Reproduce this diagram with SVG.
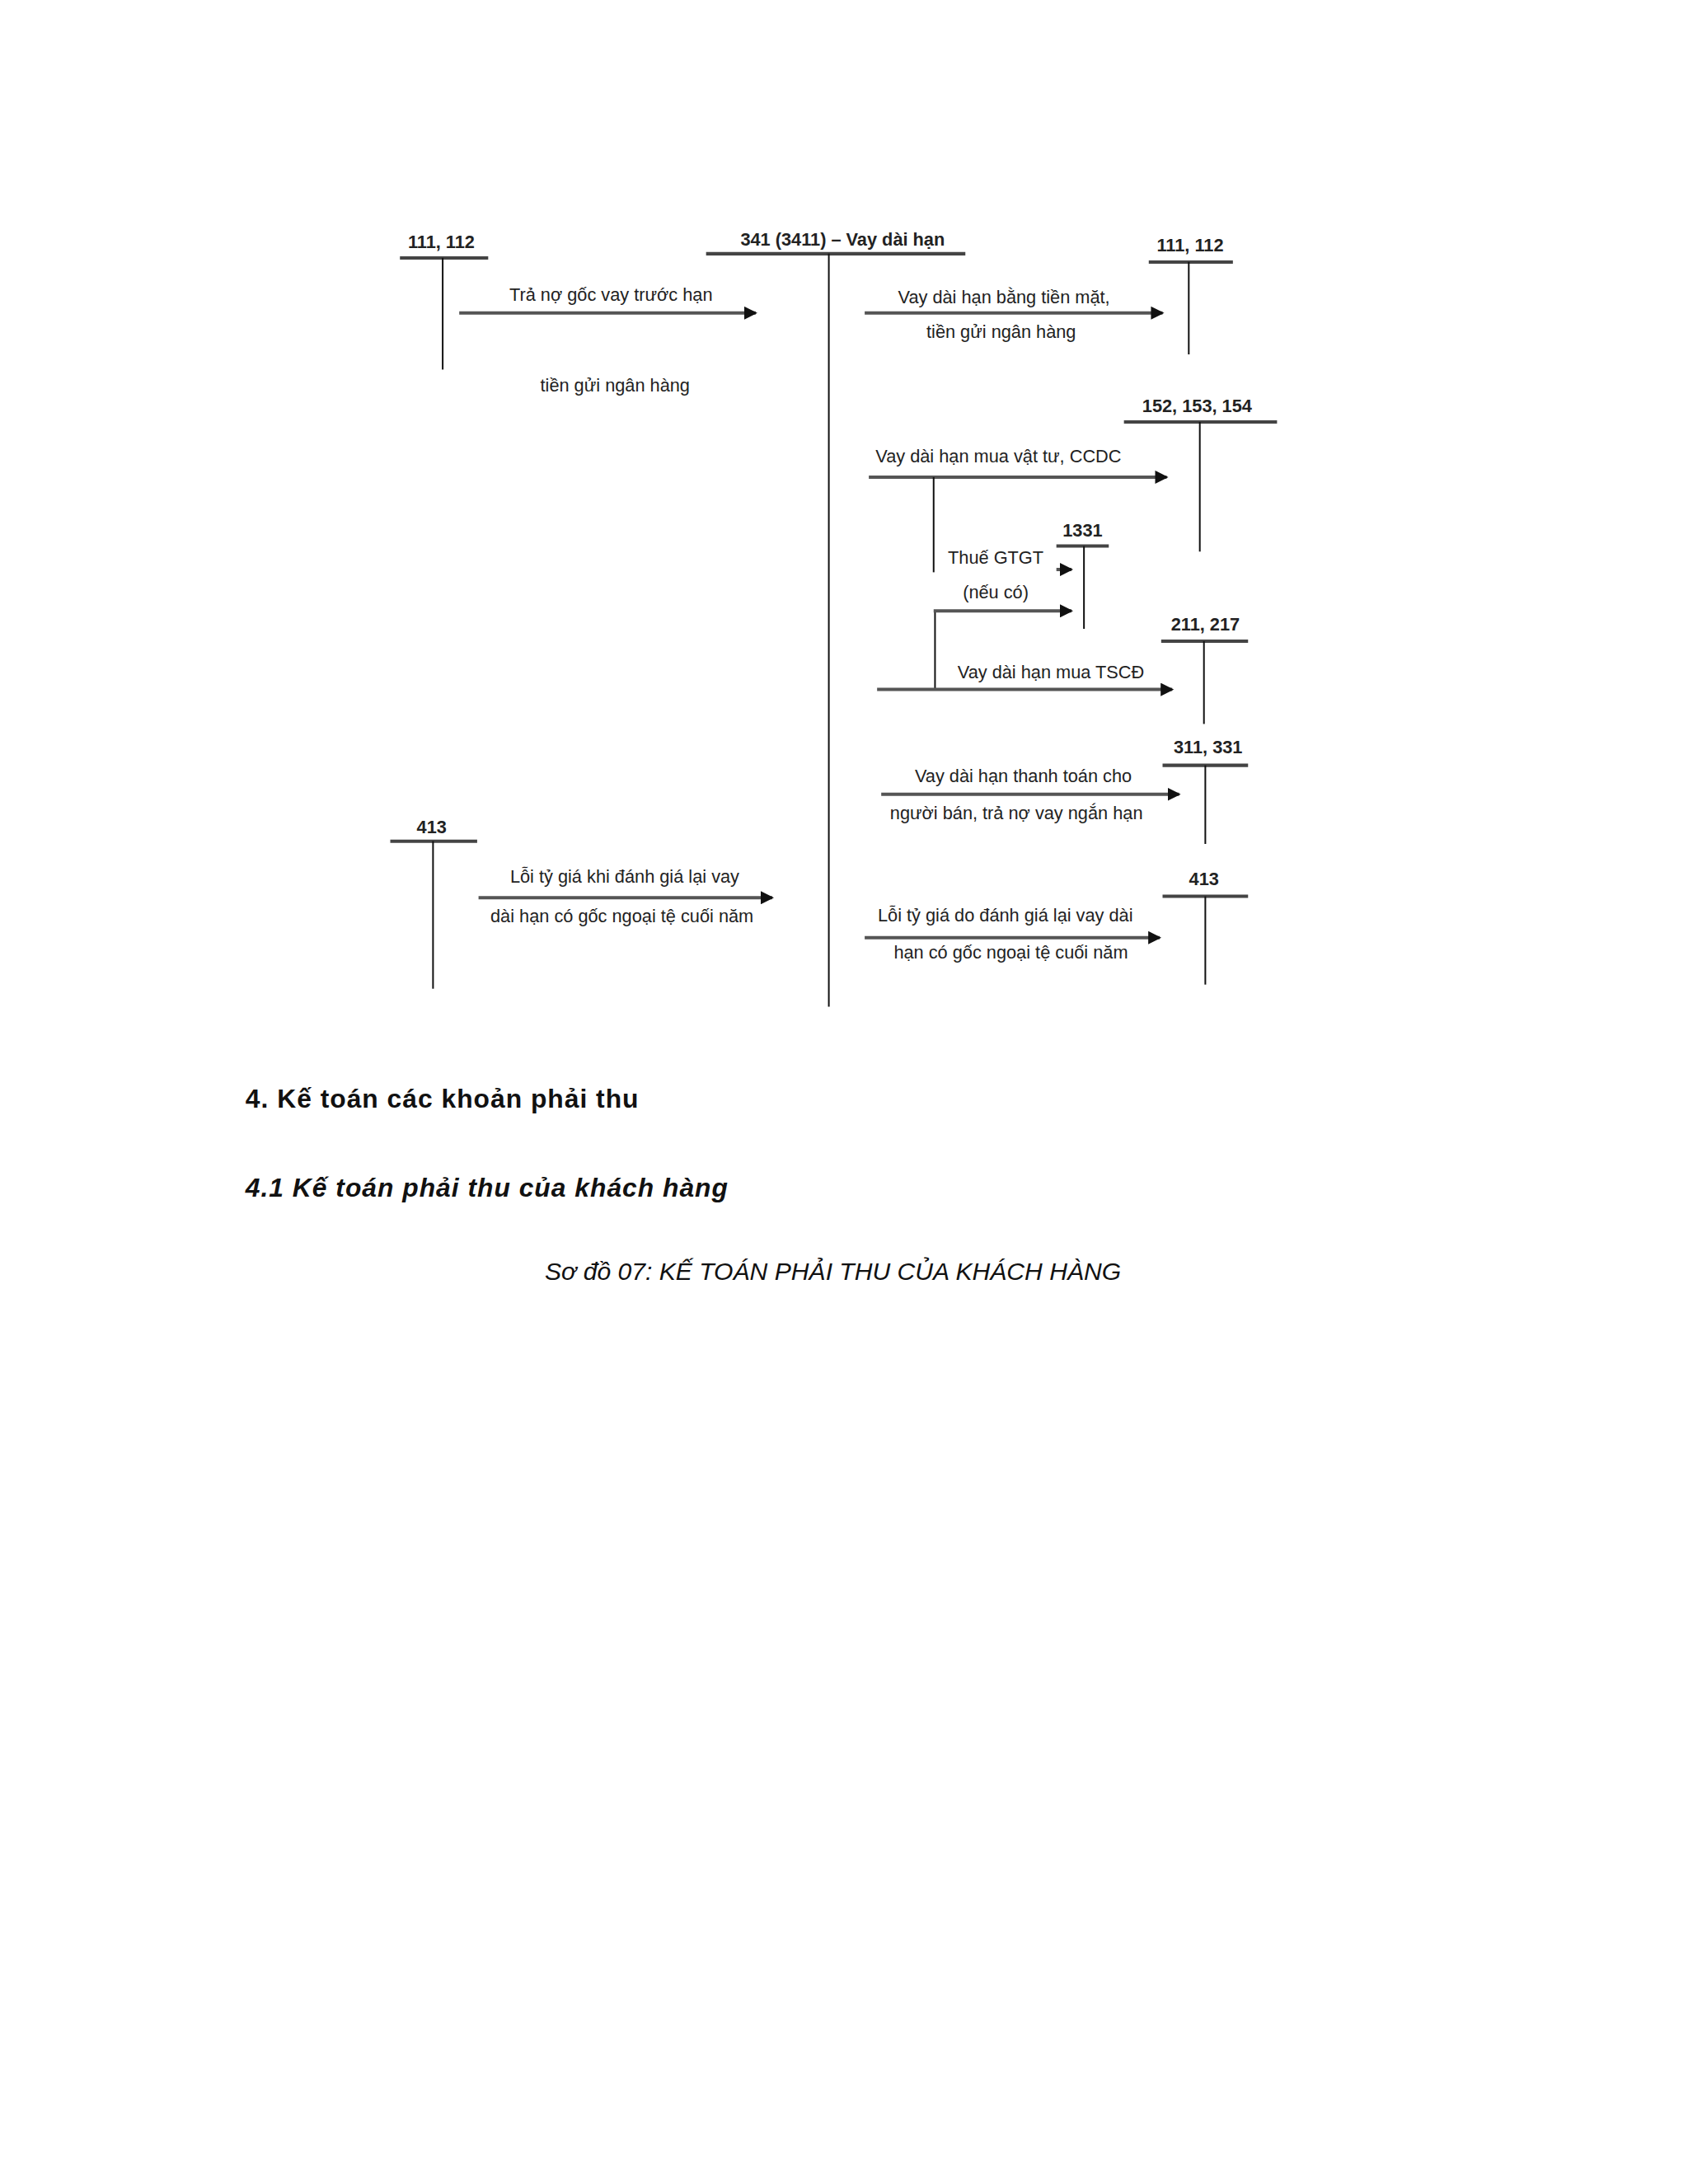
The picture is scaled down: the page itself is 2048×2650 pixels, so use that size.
<svg xmlns="http://www.w3.org/2000/svg" width="2048" height="2650" viewBox="0 0 2048 2650">
<style>
.t{font-family:"Liberation Sans",Arial,sans-serif;font-size:13px;fill:#222;text-anchor:middle}
.h{font-family:"Liberation Sans",Arial,sans-serif;font-size:13px;font-weight:bold;fill:#222;text-anchor:middle}
.bar{stroke:#444;stroke-width:2.4}
.v{stroke:#111;stroke-width:1.2}
.a{stroke:#555;stroke-width:2.4;fill:none;marker-end:url(#ah)}
.hd{font-family:"Liberation Sans",Arial,sans-serif;font-size:19px;font-weight:bold;fill:#111}
</style>
<defs><marker id="ah" markerWidth="4" markerHeight="4" refX="3.5" refY="2" orient="auto"><path d="M0,0L4,2L0,4z" fill="#111"/></marker></defs>
<rect width="2048" height="2650" fill="#fff"/>
<g transform="scale(1.6732)">
<g id="n-center"><text class="h" x="611" y="178">341 (3411) – Vay dài hạn</text><line class="bar" x1="512" y1="184" x2="700" y2="184"/><line class="v" x1="601" y1="184" x2="601" y2="730"/></g>
<g id="n-111L"><text class="h" x="320" y="180">111, 112</text><line class="bar" x1="290" y1="187" x2="354" y2="187"/><line class="v" x1="321" y1="187" x2="321" y2="268"/></g>
<g id="n-111R"><text class="h" x="863" y="182">111, 112</text><line class="bar" x1="833" y1="190" x2="894" y2="190"/><line class="v" x1="862" y1="190" x2="862" y2="257"/></g>
<g id="n-152"><text class="h" x="868" y="299">152, 153, 154</text><line class="bar" x1="815" y1="306" x2="926" y2="306"/><line class="v" x1="870" y1="306" x2="870" y2="400"/></g>
<g id="n-1331"><text class="h" x="785" y="389">1331</text><line class="bar" x1="766" y1="396" x2="804" y2="396"/><line class="v" x1="786" y1="396" x2="786" y2="456"/></g>
<g id="n-211"><text class="h" x="874" y="457">211, 217</text><line class="bar" x1="842" y1="465" x2="905" y2="465"/><line class="v" x1="873" y1="465" x2="873" y2="525"/></g>
<g id="n-311"><text class="h" x="876" y="546">311, 331</text><line class="bar" x1="843" y1="555" x2="905" y2="555"/><line class="v" x1="874" y1="555" x2="874" y2="612"/></g>
<g id="n-413L"><text class="h" x="313" y="604">413</text><line class="bar" x1="283" y1="610" x2="346" y2="610"/><line class="v" x1="314" y1="610" x2="314" y2="717"/></g>
<g id="n-413R"><text class="h" x="873" y="642">413</text><line class="bar" x1="843" y1="650" x2="905" y2="650"/><line class="v" x1="874" y1="650" x2="874" y2="714"/></g>
<g id="connectors">
<line class="a" x1="333" y1="227" x2="548" y2="227"/>
<line class="a" x1="627" y1="227" x2="843" y2="227"/>
<line class="a" x1="630" y1="346" x2="846" y2="346"/>
<line class="v" x1="677" y1="346" x2="677" y2="415"/>
<line class="a" x1="766" y1="413" x2="777" y2="413"/>
<line class="v" x1="678" y1="443" x2="678" y2="500"/>
<line class="a" x1="677" y1="443" x2="777" y2="443"/>
<line class="a" x1="636" y1="500" x2="850" y2="500"/>
<line class="a" x1="639" y1="576" x2="855" y2="576"/>
<line class="a" x1="347" y1="651" x2="560" y2="651"/>
<line class="a" x1="627" y1="680" x2="841" y2="680"/>
</g>
<g id="labels">
<text class="t" x="443" y="218">Trả nợ gốc vay trước hạn</text>
<text class="t" x="446" y="284">tiền gửi ngân hàng</text>
<text class="t" x="728" y="220">Vay dài hạn bằng tiền mặt,</text>
<text class="t" x="726" y="245">tiền gửi ngân hàng</text>
<text class="t" x="724" y="335">Vay dài hạn mua vật tư, CCDC</text>
<text class="t" x="722" y="409">Thuế GTGT</text>
<text class="t" x="722" y="434">(nếu có)</text>
<text class="t" x="762" y="492">Vay dài hạn mua TSCĐ</text>
<text class="t" x="742" y="567">Vay dài hạn thanh toán cho</text>
<text class="t" x="737" y="594">người bán, trả nợ vay ngắn hạn</text>
<text class="t" x="453" y="640">Lỗi tỷ giá khi đánh giá lại vay</text>
<text class="t" x="451" y="669">dài hạn có gốc ngoại tệ cuối năm</text>
<text class="t" x="729" y="668">Lỗi tỷ giá do đánh giá lại vay dài</text>
<text class="t" x="733" y="695">hạn có gốc ngoại tệ cuối năm</text>
</g>
<text class="hd" x="178" y="803" letter-spacing="0.6">4. Kế toán các khoản phải thu</text>
<text class="hd" x="178" y="868" font-style="italic" letter-spacing="0.6">4.1 Kế toán phải thu của khách hàng</text>
<text x="604" y="928" font-family="Liberation Sans,Arial,sans-serif" font-size="18" font-style="italic" fill="#111" text-anchor="middle">Sơ đồ 07: KẾ TOÁN PHẢI THU CỦA KHÁCH HÀNG</text>
</g>
</svg>
